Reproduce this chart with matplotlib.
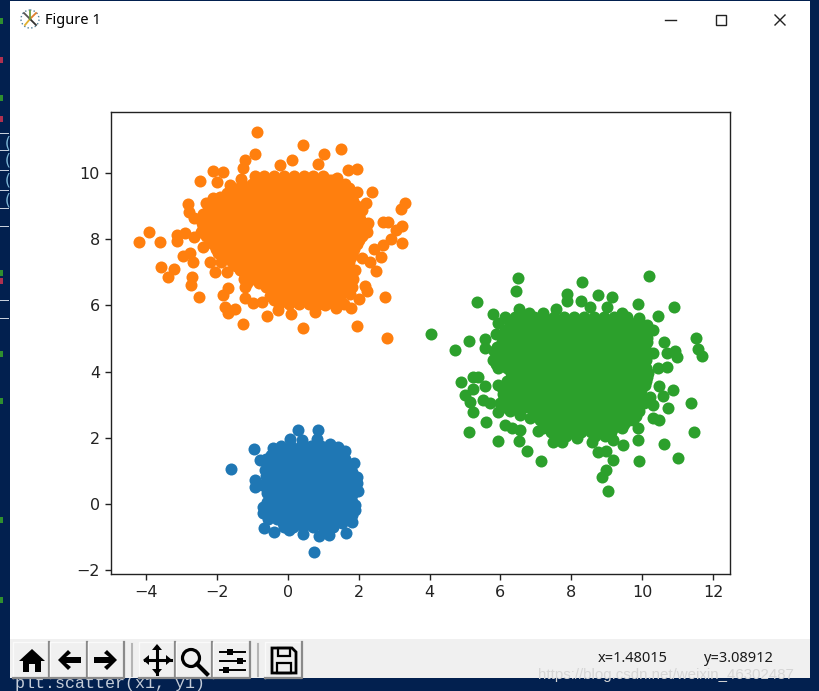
import matplotlib
matplotlib.use('Agg')
import matplotlib.pyplot as plt
from matplotlib.patches import Rectangle, Circle, Polygon

WIDTH, HEIGHT = 820, 691

x_ticks = [-4, -2, 0, 2, 4, 6, 8, 10, 12]
y_ticks = [-2, 0, 2, 4, 6, 8, 10]

# points that can be read one by one at the rim of each cloud
blue_edge = [(-1.61, 1.05), (0.75, -1.45), (1.63, -0.89), (0.30, 2.22), (0.84, 2.22), (0.05, 1.96), (0.39, 1.93),
             (0.82, 1.96), (-0.95, 1.65), (-0.41, 1.68), (1.19, 1.80), (1.43, 1.73), (1.62, 1.61), (1.87, 1.23),
             (-0.78, 1.33), (-0.64, 1.03), (-0.92, 0.73), (-0.92, 0.52), (1.95, 0.83), (1.99, 0.39), (1.95, 0.62),
             (1.90, -0.03), (1.90, -0.18), (-0.71, -0.08), (-0.69, -0.28), (1.80, -0.55), (-0.67, -0.73),
             (-0.39, -0.86), (0.02, -0.79), (0.44, -0.91), (0.89, -0.96), (1.17, -0.94)]

orange_edge = [(-0.88, 11.25), (0.43, 10.83), (1.49, 10.71), (1.03, 10.56), (-0.94, 10.56), (-1.22, 10.39),
               (-1.27, 10.16), (0.11, 10.39), (-0.22, 10.24), (0.86, 10.26), (1.96, 10.12), (1.71, 10.09),
               (-2.12, 10.07), (-1.82, 10.04), (-2.47, 9.77), (-1.99, 9.72), (-1.33, 9.82), (-1.63, 9.64),
               (1.38, 9.84), (1.15, 9.79), (2.38, 9.43), (1.96, 9.42), (2.21, 9.08), (2.09, 8.88), (3.30, 9.09),
               (3.19, 8.91), (-2.82, 9.06), (-2.78, 8.81), (-2.65, 8.63), (-2.31, 9.08), (-2.10, 9.24), (2.70, 8.53),
               (2.82, 8.51), (3.22, 8.41), (3.05, 8.28), (2.90, 7.99), (2.70, 7.82), (3.22, 7.88), (-3.93, 8.23),
               (-4.19, 7.92), (-3.60, 7.92), (-3.14, 8.11), (-3.12, 7.95), (-2.90, 8.18), (-2.65, 8.05), (-2.40, 7.77),
               (-2.95, 7.50), (-2.76, 7.57), (-2.67, 7.30), (2.62, 7.45), (2.43, 7.69), (-3.59, 7.16), (-3.20, 7.09),
               (-3.37, 6.85), (-2.71, 6.87), (-2.72, 6.62), (-2.50, 6.25), (2.49, 7.04), (2.32, 7.32), (2.09, 7.44),
               (2.18, 6.57), (2.23, 6.44), (2.02, 6.19), (2.75, 6.25), (2.79, 5.00), (1.94, 5.39), (0.43, 5.31),
               (-0.60, 5.69), (-1.26, 5.43), (-1.68, 6.52), (-1.84, 6.31), (-1.49, 5.89), (-1.76, 5.96), (-1.70, 5.76),
               (-1.21, 6.21), (-0.97, 6.06), (-0.74, 6.11), (-0.27, 5.86), (0.08, 5.74), (0.77, 5.79), (1.36, 5.93),
               (1.78, 5.91), (1.76, 6.34), (1.05, 6.01), (-2.19, 7.32), (-2.05, 7.02), (-1.72, 7.02)]

green_edge = [(6.51, 6.82), (6.43, 6.44), (5.34, 6.10), (4.03, 5.12), (5.12, 4.92), (4.73, 4.66), (8.29, 6.71),
              (10.20, 6.90), (7.87, 6.34), (7.87, 6.13), (8.27, 6.14), (8.75, 6.31), (9.14, 6.26), (8.53, 5.96),
              (9.00, 5.96), (9.88, 6.03), (10.91, 5.95), (10.45, 5.68), (9.92, 5.62), (9.42, 5.76), (5.78, 5.74),
              (6.52, 5.88), (7.19, 5.78), (7.56, 5.88), (6.81, 5.78), (5.94, 5.46), (5.57, 4.97), (5.57, 4.70),
              (5.78, 4.35), (11.51, 5.02), (11.57, 4.67), (11.69, 4.47), (10.63, 4.90), (10.32, 5.26), (10.13, 5.00),
              (10.93, 4.63), (10.99, 4.43), (10.32, 4.55), (10.69, 4.55), (10.46, 4.10), (10.71, 4.13), (10.49, 3.55),
              (10.88, 3.44), (10.58, 3.26), (10.22, 3.24), (11.37, 3.04), (10.32, 2.99), (10.74, 2.89), (10.32, 2.59),
              (10.49, 2.54), (11.46, 2.17), (10.63, 1.80), (11.02, 1.38), (9.92, 1.31), (9.05, 0.39), (8.86, 0.83),
              (8.97, 1.03), (9.19, 1.33), (8.76, 1.56), (8.97, 1.61), (9.47, 1.78), (9.89, 1.93), (9.89, 2.29),
              (8.58, 1.88), (9.19, 1.93), (8.15, 1.98), (7.73, 1.88), (7.48, 1.88), (7.14, 1.30), (6.74, 1.60),
              (6.53, 1.90), (5.92, 1.90), (5.10, 2.17), (5.58, 2.47), (5.22, 2.79), (5.14, 3.09), (5.00, 3.29),
              (5.22, 3.47), (4.88, 3.68), (5.24, 3.85), (5.38, 3.83), (5.57, 3.55), (5.52, 3.14), (5.71, 3.04),
              (5.94, 3.59), (5.94, 2.79), (6.13, 2.39), (6.32, 2.29), (6.55, 2.24), (6.84, 2.59), (7.07, 2.21),
              (6.55, 2.69)]

# the solid middle of each cloud, estimated row by row (y, x values)
blue_core = {
    1.75: [-0.18, 0.10, 0.38, 0.66, 0.94, 1.22],
    1.62: [-0.30, -0.02, 0.26, 0.54, 0.82, 1.10, 1.38],
    1.49: [-0.48, -0.18, 0.12, 0.40, 0.68, 0.96, 1.24, 1.50],
    1.36: [-0.62, -0.34, -0.06, 0.22, 0.50, 0.78, 1.06, 1.34, 1.62],
    1.23: [-0.50, -0.20, 0.10, 0.38, 0.66, 0.94, 1.22, 1.50],
    1.10: [-0.52, -0.24, 0.04, 0.32, 0.60, 0.88, 1.16, 1.44, 1.70],
    0.97: [-0.48, -0.18, 0.18, 0.46, 0.74, 1.02, 1.30, 1.58, 1.80],
    0.84: [-0.62, -0.34, -0.06, 0.22, 0.50, 0.78, 1.06, 1.34, 1.62, 1.80],
    0.71: [-0.58, -0.30, 0.00, 0.28, 0.56, 0.84, 1.12, 1.40, 1.68],
    0.58: [-0.72, -0.44, -0.16, 0.12, 0.40, 0.68, 0.96, 1.24, 1.52, 1.78],
    0.45: [-0.56, -0.28, 0.00, 0.28, 0.56, 0.84, 1.12, 1.40, 1.68, 1.90],
    0.32: [-0.60, -0.32, -0.04, 0.24, 0.52, 0.80, 1.08, 1.36, 1.64, 1.85],
    0.19: [-0.46, -0.18, 0.10, 0.38, 0.66, 0.94, 1.22, 1.50, 1.78],
    0.06: [-0.58, -0.30, -0.02, 0.26, 0.54, 0.82, 1.10, 1.38, 1.66, 1.80],
    -0.07: [-0.44, -0.16, 0.12, 0.40, 0.68, 0.96, 1.24, 1.52, 1.78],
    -0.20: [-0.50, -0.22, 0.06, 0.34, 0.62, 0.90, 1.18, 1.46, 1.72],
    -0.33: [-0.42, -0.14, 0.20, 0.48, 0.76, 1.04, 1.32, 1.60, 1.82],
    -0.46: [-0.56, -0.30, -0.02, 0.26, 0.54, 0.82, 1.10, 1.38, 1.66],
    -0.58: [-0.14, 0.12, 0.40, 0.68, 0.96, 1.24, 1.52],
    -0.70: [-0.12, 0.16, 0.44, 0.72, 1.00, 1.28],
}

orange_core = {
    9.92: [-0.92, -0.66, -0.38, -0.10, 0.18, 0.46, 0.72, 1.00],
    9.79: [-0.80, -0.52, -0.24, 0.04, 0.32, 0.60, 0.88, 1.26],
    9.66: [-1.28, -1.02, -0.76, -0.48, -0.20, 0.06, 0.34, 0.62, 0.88, 1.16, 1.44, 1.62],
    9.53: [-1.56, -1.30, -1.02, -0.74, -0.46, -0.18, 0.10, 0.38, 0.66, 0.94, 1.22, 1.50, 1.74],
    9.40: [-1.72, -1.44, -1.16, -0.90, -0.62, -0.34, -0.06, 0.22, 0.50, 0.76, 1.04, 1.32, 1.60, 1.80],
    9.27: [-1.90, -1.62, -1.34, -1.06, -0.78, -0.50, -0.22, 0.06, 0.34, 0.62, 0.90, 1.18, 1.46, 1.74],
    9.14: [-2.04, -1.76, -1.50, -1.22, -0.94, -0.66, -0.38, -0.10, 0.18, 0.44, 0.72, 1.00, 1.28, 1.56, 1.84],
    9.01: [-2.14, -1.86, -1.58, -1.30, -1.02, -0.74, -0.46, -0.18, 0.10, 0.38, 0.66, 0.94, 1.22, 1.50, 1.78, 1.94],
    8.88: [-2.26, -1.98, -1.70, -1.42, -1.16, -0.88, -0.60, -0.32, -0.04, 0.24, 0.52, 0.78, 1.06, 1.34, 1.62, 1.90],
    8.75: [-2.40, -2.12, -1.84, -1.56, -1.28, -1.00, -0.72, -0.44, -0.16, 0.12, 0.40, 0.68, 0.96, 1.24, 1.52, 1.80, 2.00],
    8.62: [-2.30, -2.04, -1.76, -1.48, -1.20, -0.92, -0.64, -0.36, -0.08, 0.20, 0.48, 0.76, 1.04, 1.30, 1.58, 1.86, 2.04],
    8.49: [-2.42, -2.16, -1.88, -1.60, -1.32, -1.04, -0.76, -0.48, -0.20, 0.08, 0.36, 0.64, 0.92, 1.20, 1.48, 1.76, 2.04, 2.26],
    8.36: [-2.40, -2.14, -1.86, -1.58, -1.30, -1.02, -0.74, -0.46, -0.18, 0.10, 0.38, 0.66, 0.94, 1.22, 1.50, 1.78, 2.06, 2.20],
    8.23: [-2.44, -2.18, -1.90, -1.62, -1.34, -1.06, -0.78, -0.50, -0.22, 0.06, 0.34, 0.62, 0.90, 1.18, 1.46, 1.74, 2.02, 2.24],
    8.10: [-2.32, -2.04, -1.76, -1.48, -1.22, -0.94, -0.66, -0.38, -0.10, 0.18, 0.46, 0.74, 1.02, 1.28, 1.56, 1.84, 2.08],
    7.97: [-2.20, -1.92, -1.64, -1.36, -1.08, -0.80, -0.52, -0.24, 0.04, 0.32, 0.60, 0.88, 1.16, 1.44, 1.72, 2.00],
    7.84: [-2.12, -1.84, -1.56, -1.28, -1.00, -0.72, -0.46, -0.18, 0.10, 0.38, 0.66, 0.94, 1.22, 1.50, 1.78, 1.96],
    7.71: [-2.04, -1.76, -1.48, -1.20, -0.92, -0.64, -0.36, -0.08, 0.20, 0.48, 0.76, 1.04, 1.32, 1.60, 1.88],
    7.58: [-1.96, -1.70, -1.42, -1.14, -0.86, -0.58, -0.30, -0.02, 0.26, 0.54, 0.82, 1.08, 1.36, 1.64, 1.82],
    7.45: [-1.78, -1.50, -1.22, -0.94, -0.66, -0.38, -0.10, 0.18, 0.46, 0.74, 1.02, 1.30, 1.58, 1.78],
    7.32: [-1.88, -1.58, -1.30, -1.02, -0.74, -0.46, -0.18, 0.10, 0.38, 0.66, 0.94, 1.22, 1.50, 1.74],
    7.19: [-1.46, -1.18, -0.90, -0.62, -0.34, -0.06, 0.22, 0.50, 0.78, 1.06, 1.34, 1.62],
    7.06: [-1.36, -1.10, -0.82, -0.54, -0.26, 0.02, 0.30, 0.58, 0.86, 1.14, 1.42, 1.68, 1.90],
    6.93: [-1.20, -0.92, -0.64, -0.36, -0.08, 0.20, 0.48, 0.76, 1.04, 1.32, 1.60],
    6.80: [-1.24, -0.96, -0.68, -0.40, -0.12, 0.16, 0.44, 0.72, 1.00, 1.28, 1.56, 1.84],
    6.67: [-1.14, -0.80, -0.50, -0.22, 0.06, 0.34, 0.62, 0.90, 1.18, 1.46, 1.70],
    6.54: [-1.22, -0.62, -0.34, -0.06, 0.22, 0.50, 0.78, 1.06, 1.34, 1.62, 1.80],
    6.41: [-0.44, -0.16, 0.12, 0.40, 0.68, 0.96, 1.24, 1.52],
    6.28: [-0.50, -0.22, 0.06, 0.34, 0.62, 0.90, 1.18, 1.46],
    6.16: [-0.38, -0.10, 0.18, 0.46, 0.74, 1.02, 1.30],
    6.04: [-0.24, 0.04, 0.32, 0.60, 0.88, 1.30, 1.58],
}

green_core = {
    5.64: [6.12, 6.40, 6.68, 6.96, 7.24, 7.52, 7.80, 8.08, 8.36, 8.64, 8.92, 9.20, 9.58],
    5.52: [6.24, 6.52, 6.80, 7.08, 7.36, 7.64, 7.92, 8.20, 8.48, 8.76, 9.04, 9.32, 9.60, 9.88],
    5.40: [6.26, 6.54, 6.82, 7.10, 7.38, 7.66, 7.94, 8.22, 8.50, 8.78, 9.06, 9.34, 9.62, 9.90, 10.14],
    5.27: [6.12, 6.40, 6.68, 6.96, 7.24, 7.52, 7.80, 8.08, 8.36, 8.64, 8.92, 9.20, 9.48, 9.76, 10.04],
    5.14: [5.88, 6.40, 6.68, 6.96, 7.24, 7.52, 7.80, 8.08, 8.36, 8.64, 8.92, 9.20, 9.48, 9.76, 10.04],
    5.01: [6.10, 6.30, 6.54, 6.82, 7.10, 7.38, 7.66, 7.94, 8.22, 8.50, 8.78, 9.06, 9.34, 9.62, 9.90, 10.12],
    4.88: [6.04, 6.30, 6.58, 6.86, 7.14, 7.42, 7.70, 7.98, 8.26, 8.54, 8.82, 9.10, 9.38, 9.66, 9.94, 10.14],
    4.75: [5.90, 6.18, 6.46, 6.74, 7.02, 7.30, 7.58, 7.86, 8.14, 8.42, 8.70, 8.98, 9.26, 9.54, 9.82, 10.08],
    4.62: [5.82, 6.10, 6.38, 6.66, 6.94, 7.22, 7.50, 7.78, 8.06, 8.34, 8.62, 8.90, 9.18, 9.46, 9.74, 10.02],
    4.49: [5.96, 6.24, 6.52, 6.80, 7.08, 7.36, 7.64, 7.92, 8.20, 8.48, 8.76, 9.04, 9.32, 9.60, 9.88, 10.14],
    4.36: [6.02, 6.28, 6.56, 6.84, 7.12, 7.40, 7.68, 7.96, 8.24, 8.52, 8.80, 9.08, 9.36, 9.64, 9.92, 10.12],
    4.23: [5.88, 6.14, 6.42, 6.70, 6.98, 7.26, 7.54, 7.82, 8.10, 8.38, 8.66, 8.94, 9.22, 9.50, 9.78, 10.06],
    4.10: [5.92, 6.18, 6.46, 6.74, 7.02, 7.30, 7.58, 7.86, 8.14, 8.42, 8.70, 8.98, 9.26, 9.54, 9.82, 10.10],
    3.97: [6.30, 6.58, 6.86, 7.14, 7.42, 7.70, 7.98, 8.26, 8.54, 8.82, 9.10, 9.38, 9.66, 9.94, 10.16],
    3.84: [6.34, 6.60, 6.88, 7.16, 7.44, 7.72, 8.00, 8.28, 8.56, 8.84, 9.12, 9.40, 9.68, 9.96, 10.14],
    3.71: [6.20, 6.46, 6.74, 7.02, 7.30, 7.58, 7.86, 8.14, 8.42, 8.70, 8.98, 9.26, 9.54, 9.82, 10.10],
    3.58: [6.22, 6.48, 6.76, 7.04, 7.32, 7.60, 7.88, 8.16, 8.44, 8.72, 9.00, 9.28, 9.56, 9.84, 10.08],
    3.45: [6.06, 6.34, 6.62, 6.90, 7.18, 7.46, 7.74, 8.02, 8.30, 8.58, 8.86, 9.14, 9.42, 9.70, 9.98],
    3.32: [6.08, 6.36, 6.64, 6.92, 7.20, 7.48, 7.76, 8.04, 8.32, 8.60, 8.88, 9.16, 9.44, 9.72, 9.94],
    3.19: [6.10, 6.38, 6.66, 6.94, 7.22, 7.50, 7.78, 8.06, 8.34, 8.62, 8.90, 9.18, 9.46, 9.74, 9.98],
    3.06: [6.00, 6.26, 6.54, 6.82, 7.10, 7.38, 7.66, 7.94, 8.22, 8.50, 8.78, 9.06, 9.34, 9.62, 9.90, 10.04],
    2.93: [6.14, 6.42, 6.70, 6.98, 7.26, 7.54, 7.82, 8.10, 8.38, 8.66, 8.94, 9.22, 9.50, 9.78],
    2.80: [6.26, 6.92, 7.20, 7.48, 7.76, 8.04, 8.32, 8.60, 8.88, 9.16, 9.44, 9.72, 9.90],
    2.67: [7.06, 7.30, 7.58, 7.86, 8.14, 8.42, 8.70, 8.98, 9.26, 9.54, 9.82],
    2.54: [7.12, 7.38, 7.66, 7.94, 8.22, 8.50, 8.78, 9.06, 9.34, 9.62, 9.74],
    2.41: [7.26, 7.52, 7.80, 8.08, 8.36, 8.64, 8.92, 9.20, 9.48],
    2.28: [7.20, 7.50, 7.78, 8.06, 8.34, 8.62, 8.90, 9.18, 9.42],
    2.16: [7.44, 7.72, 8.00, 8.28, 8.56, 8.84, 9.12],
    2.04: [7.58, 7.86, 8.66, 8.94, 9.10],
}

status_x = 'x=1.48015'
status_y = 'y=3.08912'
watermark = 'https://blog.csdn.net/weixin_46302487'
behind_text = 'plt.scatter(x1, y1)'


def split_points(edge, core):
    xs = [p[0] for p in edge]
    ys = [p[1] for p in edge]
    for y, row in core.items():
        xs += row
        ys += [y] * len(row)
    return xs, ys


def draw_button(bg, x0, x1):
    bg.add_patch(Rectangle((x0, 642), x1 - x0, 36, fc='#f0f0f0', ec='none'))
    bg.plot([x0, x0, x1], [678, 642, 642], color='#fafafa', lw=1)
    bg.plot([x0, x1, x1], [678, 678, 642], color='#8a8a8a', lw=1.6)


def draw_window(bg):
    navy = '#02204f'
    bg.add_patch(Rectangle((0, 0), WIDTH, HEIGHT, fc=navy, ec='none', zorder=0))
    bg.text(15, 688, behind_text, family='Liberation Mono', fontsize=12, color='#c4ccd8', va='baseline', zorder=0.5)
    bg.add_patch(Rectangle((10, 1), 800, 639, fc='white', ec='none', zorder=1))
    bg.add_patch(Rectangle((10, 639), 800, 39, fc='#f0f0f0', ec='none', zorder=1))

    # bits of the editor showing down the left side
    for y, col in [(21, '#2f8f2f'), (60, '#b03050'), (98, '#2f8f2f'), (119, '#b03050'), (273, '#2f8f2f'),
                   (281, '#b03050'), (354, '#2f8f2f'), (401, '#2f8f2f'), (520, '#2f8f2f'), (600, '#2f8f2f')]:
        bg.add_patch(Rectangle((0, y - 3), 3, 6, fc=col, ec='none', zorder=0.5))
    for y in [133, 150, 170, 190, 208, 226, 300, 318]:
        bg.add_patch(Rectangle((0, y), 9, 1, fc='#c8d0dc', ec='none', zorder=0.5))
    for y in [143, 160, 180, 200]:
        bg.text(5, y, '(', fontsize=11, color='#7fb8d8', va='center', zorder=0.5)

    # title bar
    bg.add_patch(Circle((30, 19), 9, fc='white', ec='#50809a', lw=1, ls=':', zorder=2))
    for dx, dy, col in [(-6, -6, '#555555'), (6, -6, '#e08030'), (-5, 6, '#e0b030'), (6, 6, '#333333'), (0, -8, '#70a040')]:
        bg.plot([30, 30 + dx], [19, 19 + dy], color=col, lw=1.3, zorder=2.1)
    bg.text(45, 20, 'Figure 1', family='Noto Sans', fontsize=10.5, color='black', va='center', zorder=2)
    bg.plot([665, 676], [20, 20], color='#222222', lw=1, zorder=2)
    bg.add_patch(Rectangle((716, 15), 10, 10, fc='none', ec='#222222', lw=1, zorder=2))
    bg.plot([775, 785], [15, 25], color='#222222', lw=1, zorder=2)
    bg.plot([775, 785], [25, 15], color='#222222', lw=1, zorder=2)

    # toolbar
    for x0, x1 in [(13, 49), (50, 87), (88, 124), (139, 175), (176, 212), (213, 250), (265, 302)]:
        draw_button(bg, x0, x1)
    for x in [132, 258]:
        bg.plot([x, x], [644, 676], color='#b5b5b5', lw=1.5)

    bg.add_patch(Polygon([(19, 661), (32, 649), (45, 661), (41, 661), (41, 672), (35, 672), (35, 664), (29, 664),
                          (29, 672), (23, 672), (23, 661)], fc='black', ec='none', zorder=2))
    bg.add_patch(Polygon([(58, 660), (68, 650), (71, 653), (66, 657), (81, 657), (81, 663), (66, 663), (71, 667),
                          (68, 670)], fc='black', ec='none', zorder=2))
    bg.add_patch(Polygon([(117, 660), (107, 650), (104, 653), (109, 657), (94, 657), (94, 663), (109, 663), (104, 667),
                          (107, 670)], fc='black', ec='none', zorder=2))
    bg.plot([145, 171], [660, 660], color='black', lw=2.2, zorder=2)
    bg.plot([157, 157], [647, 674], color='black', lw=2.2, zorder=2)
    for pts in [[(143, 660), (149, 655), (149, 665)], [(172, 660), (166, 655), (166, 665)],
                [(157, 644), (152, 650), (162, 650)], [(157, 675), (152, 669), (162, 669)]]:
        bg.add_patch(Polygon(pts, fc='black', ec='none', zorder=2))
    bg.add_patch(Circle((191, 658), 8.5, fc='none', ec='black', lw=2.3, zorder=2))
    bg.plot([197, 207], [664, 674], color='black', lw=3, zorder=2)
    for y, knob in [(652, 230), (661, 240), (670, 226)]:
        bg.plot([220, 245], [y, y], color='black', lw=1.4, zorder=2)
        bg.add_patch(Rectangle((knob - 3, y - 3), 6, 6, fc='black', ec='none', zorder=2))
    bg.add_patch(Polygon([(272, 648), (292, 648), (296, 652), (296, 673), (272, 673)], fc='none', ec='black', lw=2, zorder=2))
    bg.add_patch(Rectangle((278, 648), 12, 8, fc='none', ec='black', lw=1.6, zorder=2))
    bg.add_patch(Rectangle((277, 663), 14, 10, fc='none', ec='black', lw=1.6, zorder=2))

    bg.text(598, 659, status_x, family='Noto Sans', fontsize=10.5, color='#1a1a1a', va='center', zorder=3)
    bg.text(703, 659, status_y, family='Noto Sans', fontsize=10.5, color='#1a1a1a', va='center', zorder=3)
    bg.text(538, 675, watermark, family='Liberation Sans', fontsize=10.8, color='#d6d6d6', va='center', zorder=3)


fig = plt.figure(figsize=(WIDTH / 100, HEIGHT / 100), dpi=100)

bg = fig.add_axes([0, 0, 1, 1], zorder=0)
bg.set_xlim(0, WIDTH)
bg.set_ylim(HEIGHT, 0)
bg.axis('off')
draw_window(bg)

ax = fig.add_axes([111 / WIDTH, (HEIGHT - 574) / HEIGHT, 619 / WIDTH, 462 / HEIGHT], zorder=1)
for edge, core in [(blue_edge, blue_core), (orange_edge, orange_core), (green_edge, green_core)]:
    xs, ys = split_points(edge, core)
    ax.scatter(xs, ys, s=75, linewidths=0)

ax.set_xlim(-4.99, 12.48)
ax.set_ylim(-2.115, 11.84)
ax.set_xticks(x_ticks)
ax.set_yticks(y_ticks)
ax.tick_params(labelsize=11.5, length=4.4, width=1, color='#222222', labelcolor='#222222')
for spine in ax.spines.values():
    spine.set_linewidth(1)
    spine.set_color('#222222')

fig.savefig('out.png', dpi=100)
